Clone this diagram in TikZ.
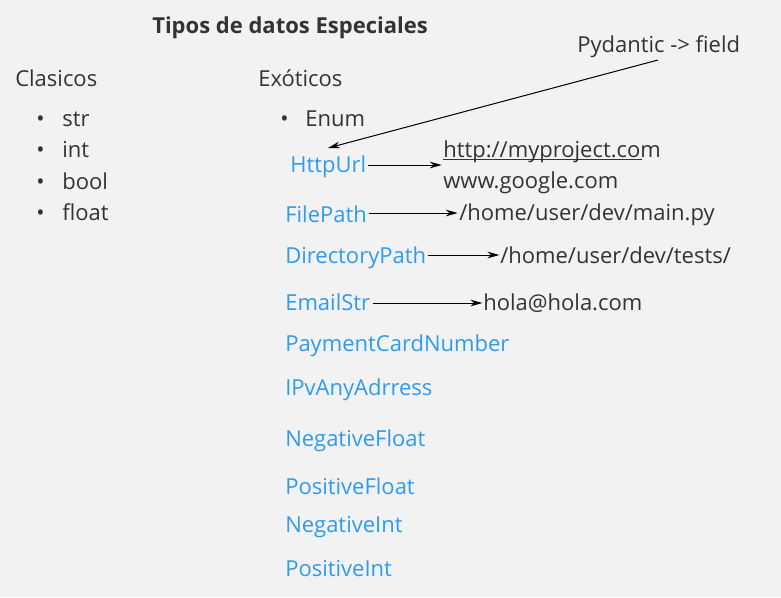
\documentclass[tikz,border=0pt]{standalone}
\usepackage{fontspec}
\setmainfont{Open Sans}
\usetikzlibrary{arrows.meta}
\definecolor{bg}{HTML}{F2F2F2}
\definecolor{txt}{HTML}{333333}
\definecolor{typ}{HTML}{2F9BEF}
\tikzset{
  lbl/.style={anchor=base west, inner sep=0pt, text=txt, font=\fontsize{16.5}{19}\selectfont},
  ty/.style={lbl, text=typ},
  conn/.style={draw=black, line width=0.75pt, -{Stealth[length=9pt,width=5pt]}},
}
\begin{document}
\begin{tikzpicture}[x=0.75pt,y=-0.75pt]
\fill[bg] (0,0) rectangle (781,597);
\useasboundingbox (0,0) rectangle (781,597);
\node[lbl, font=\fontsize{16.5}{19}\selectfont\bfseries, anchor=base] (title) at (290,33) {Tipos de datos Especiales};
\node[lbl] (pyd) at (577,52) {Pydantic -> field};
\node[lbl] (clas) at (15,86) {Clasicos};
\node[lbl] (exo) at (258,86) {Exóticos};
\foreach \t/\y [count=\i] in {str/126,int/157,bool/189,float/220}{
  \node[lbl] (b\i) at (36,\y) {•};
  \node[lbl] (c\i) at (62,\y) {\t};
}
\node[lbl] (be) at (280,126) {•};
\node[lbl] (enum) at (305,126) {Enum};
\node[ty] (http) at (290,172) {HttpUrl};
\node[lbl] (myp) at (443,157) {http://myproject.com};
\coordinate (u1) at (443,159.5);
\coordinate (u2) at (642,159.5);
\draw[txt, line width=0.9pt] (u1) -- (u2);
\node[lbl] (goo) at (443,188) {www.google.com};
\node[ty] (fp) at (285,222) {FilePath};
\node[lbl] (fpv) at (459,220) {/home/user/dev/main.py};
\node[ty] (dp) at (285,263) {DirectoryPath};
\node[lbl] (dpv) at (500,263) {/home/user/dev/tests/};
\node[ty] (em) at (285,310) {EmailStr};
\node[lbl] (emv) at (483,310) {hola@hola.com};
\node[ty] (pc) at (285,351) {PaymentCardNumber};
\node[ty] (ip) at (285,395) {IPvAnyAdrress};
\node[ty] (nf) at (285,446) {NegativeFloat};
\node[ty] (pf) at (285,494) {PositiveFloat};
\node[ty] (ni) at (285,532) {NegativeInt};
\node[ty] (pi) at (285,576) {PositiveInt};
\coordinate (pa) at (658,60);
\coordinate (pb) at (328,148);
\draw[conn] (pa) -- (pb);
\draw[conn] ([xshift=1.5pt]http.east |- 0,165) -- ([xshift=-1pt]myp.west |- 0,165);
\draw[conn] ([xshift=1.5pt]fp.east |- 0,213) -- ([xshift=-1pt]fpv.west |- 0,213);
\draw[conn] ([xshift=1.5pt]dp.east |- 0,255) -- ([xshift=-0.5pt]dpv.west |- 0,255);
\draw[conn] ([xshift=2pt]em.east |- 0,303) -- ([xshift=-0.5pt]emv.west |- 0,303);
\end{tikzpicture}
\end{document}
